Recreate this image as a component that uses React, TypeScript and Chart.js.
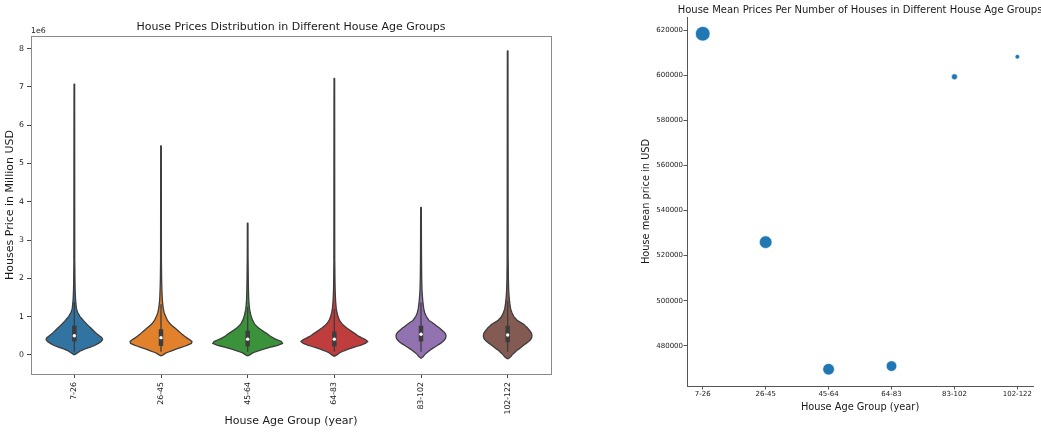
import React, { useEffect, useRef } from "react";
import { Chart, registerables } from "chart.js";

Chart.register(...registerables);

// ---------- data ----------
const ageGroups = ["7-26", "26-45", "45-64", "64-83", "83-102", "102-122"];

// price grid (million USD) on which the violin densities are read
const priceGrid = [-0.05, 0, 0.05, 0.1, 0.15, 0.2, 0.25, 0.3, 0.35, 0.4, 0.45, 0.5, 0.55, 0.6, 0.7, 0.8, 0.9, 1.0, 1.1, 1.2, 1.35, 1.5, 1.7, 2.0, 2.5];

// relative KDE density per group (null = below the violin's lower end)
const density7to26 = [null, null, 3, 6, 10, 16, 20.5, 24, 27, 28.3, 27.5, 25, 22.5, 20.5, 16.5, 12.5, 9, 5.7, 3.5, 2.2, 1.5, 1.1, 0.8, 0.6, 0.4];
const density26to45 = [null, 2, 5, 10, 15, 21, 26, 30.5, 31, 28.5, 25.5, 23, 20.5, 18.5, 14, 9.5, 6.5, 4.7, 3.2, 2.4, 1.6, 1.2, 0.9, 0.6, 0.4];
const density45to64 = [null, 2, 5, 10, 16, 23, 30, 35, 33.5, 29, 25, 22, 19.5, 16.5, 11, 7, 5, 3.5, 2.6, 1.9, 1.3, 1.0, 0.8, 0.6, 0.4];
const density64to83 = [null, 2.5, 5, 9, 14, 20, 26, 31, 33.5, 31, 27, 23.5, 21, 18, 12.5, 8, 5.2, 3.7, 2.7, 2.0, 1.4, 1.1, 0.8, 0.6, 0.4];
const density83to102 = [2, 3.5, 5.5, 8, 10.5, 13.5, 16.5, 19.5, 22, 23.8, 24.8, 25, 24.5, 23, 18.5, 13.5, 8, 5.3, 3.7, 2.8, 2.0, 1.5, 1.0, 0.7, 0.5];
const density102to122 = [3, 4.5, 6.5, 8.5, 11, 13.5, 16, 18.5, 21, 23, 24, 24.3, 24, 23, 20, 16, 9.5, 6.2, 4.3, 3.0, 2.1, 1.5, 1.0, 0.7, 0.5];
const groupDensities = [density7to26, density26to45, density45to64, density64to83, density83to102, density102to122];
const tailDensity = 0.3;

const violinLow = [0.0, -0.03, -0.03, -0.04, -0.09, -0.11];
const violinHigh = [7.07, 5.46, 3.44, 7.22, 3.85, 7.94];
const quartile1 = [0.35, 0.235, 0.22, 0.22, 0.35, 0.33];
const medianPrice = [0.5, 0.45, 0.41, 0.41, 0.54, 0.52];
const quartile3 = [0.765, 0.67, 0.63, 0.61, 0.76, 0.76];
const whiskerLow = [0.08, 0.08, 0.08, 0.08, 0.08, 0.08];
const whiskerHigh = [1.39, 1.32, 1.25, 1.2, 1.37, 1.4];
const leftYTicks = [0, 1, 2, 3, 4, 5, 6, 7, 8];

// right panel
const meanPrice = [618500, 526000, 469600, 471000, 599400, 608300];
const houseCount = [5330, 3970, 3360, 2810, 900, 530];
const rightYTicks = [480000, 500000, 520000, 540000, 560000, 580000, 600000, 620000];

// ---------- styling ----------
const FONT = "'DejaVu Sans', sans-serif";
const TEXT = "#1a1a1a";
const violinColors = ["#3274a1", "#e1812c", "#3a923a", "#c03d3e", "#9372b2", "#845b53"];
const EDGE = "#3d3d3d";
const DENSITY_PER_CATEGORY = 86.7;

function violinOutline(i: number) {
  const dens = groupDensities[i];
  const lo = violinLow[i];
  const hi = violinHigh[i];
  const leftSide: { x: number; y: number }[] = [{ x: i, y: lo }];
  const rightSide: { x: number; y: number }[] = [];
  priceGrid.forEach((p, k) => {
    const d = dens[k];
    if (d == null || p <= lo) return;
    const w = d / DENSITY_PER_CATEGORY;
    leftSide.push({ x: i - w, y: p });
    rightSide.push({ x: i + w, y: p });
  });
  const tw = tailDensity / DENSITY_PER_CATEGORY;
  leftSide.push({ x: i - tw, y: hi });
  rightSide.push({ x: i + tw, y: hi });
  return [...leftSide, ...rightSide.reverse(), { x: i, y: lo }];
}

function textPlugin(id: string, items: { text: string; size: number; y: number; x?: "center" | "left" }[]) {
  return {
    id,
    afterDraw(chart: any) {
      const { ctx, chartArea } = chart;
      ctx.save();
      items.forEach((it) => {
        ctx.font = `${it.size}px ${FONT}`;
        ctx.fillStyle = TEXT;
        ctx.textBaseline = "middle";
        if (it.x === "left") {
          ctx.textAlign = "left";
          ctx.fillText(it.text, chartArea.left, it.y);
        } else {
          ctx.textAlign = "center";
          ctx.fillText(it.text, (chartArea.left + chartArea.right) / 2, it.y);
        }
      });
      ctx.restore();
    },
  };
}

const framePlugin = {
  id: "frame",
  afterDraw(chart: any) {
    const { ctx, chartArea } = chart;
    ctx.save();
    ctx.strokeStyle = "#8a8a8a";
    ctx.lineWidth = 1;
    ctx.strokeRect(
      Math.round(chartArea.left) + 0.5,
      Math.round(chartArea.top) + 0.5,
      Math.round(chartArea.right - chartArea.left),
      Math.round(chartArea.bottom - chartArea.top)
    );
    ctx.restore();
  },
};

export default function App() {
  const leftRef = useRef<HTMLCanvasElement>(null);
  const rightRef = useRef<HTMLCanvasElement>(null);

  useEffect(() => {
    const datasets: any[] = [];
    ageGroups.forEach((g, i) => {
      datasets.push({
        label: g,
        data: violinOutline(i),
        showLine: true,
        fill: "shape",
        backgroundColor: violinColors[i],
        borderColor: EDGE,
        borderWidth: 1.3,
        borderJoinStyle: "round",
        pointRadius: 0,
        tension: 0.0001,
        order: 3,
      });
      datasets.push({
        data: [{ x: i, y: whiskerLow[i] }, { x: i, y: whiskerHigh[i] }],
        showLine: true,
        borderColor: EDGE,
        borderWidth: 1.3,
        pointRadius: 0,
        order: 2,
      });
      datasets.push({
        data: [{ x: i, y: quartile1[i] }, { x: i, y: quartile3[i] }],
        showLine: true,
        borderColor: EDGE,
        borderWidth: 4.5,
        borderCapStyle: "butt",
        pointRadius: 0,
        order: 1,
      });
      datasets.push({
        data: [{ x: i, y: medianPrice[i] }],
        pointRadius: 1.7,
        backgroundColor: "#ffffff",
        borderWidth: 0,
        order: 0,
      });
    });

    const tickGrid = { display: true, drawOnChartArea: false, drawTicks: true, tickLength: 4, color: "#444" };

    const left = new Chart(leftRef.current!, {
      type: "scatter",
      data: { datasets },
      options: {
        animation: false,
        responsive: false,
        devicePixelRatio: 1,
        layout: { padding: { top: 36, right: 29, left: 0, bottom: 0 } },
        plugins: { legend: { display: false }, tooltip: { enabled: false } },
        scales: {
          x: {
            type: "linear",
            min: -0.5,
            max: 5.5,
            afterBuildTicks: (s: any) => {
              s.ticks = ageGroups.map((_, i) => ({ value: i }));
            },
            afterFit: (s: any) => {
              s.height = 59;
            },
            ticks: {
              callback: (v: any) => ageGroups[Math.round(Number(v))],
              font: { size: 7.8, family: FONT },
              color: TEXT,
              minRotation: 90,
              maxRotation: 90,
              autoSkip: false,
              padding: 4,
            },
            grid: tickGrid,
            border: { display: false },
            title: {
              display: true,
              text: "House Age Group (year)",
              font: { size: 11, family: FONT },
              color: TEXT,
              padding: { top: 0, bottom: 5.7 },
            },
          },
          y: {
            type: "linear",
            min: -0.5,
            max: 8.33,
            afterBuildTicks: (s: any) => {
              s.ticks = leftYTicks.map((v) => ({ value: v }));
            },
            afterFit: (s: any) => {
              s.width = 31;
            },
            ticks: { font: { size: 7.8, family: FONT }, color: TEXT, padding: 3 },
            grid: tickGrid,
            border: { display: false },
            title: {
              display: true,
              text: "Houses Price in Million USD",
              font: { size: 11, family: FONT },
              color: TEXT,
              padding: { top: 3.4, bottom: 0 },
            },
          },
        },
      },
      plugins: [
        framePlugin,
        textPlugin("leftTexts", [
          { text: "House Prices Distribution in Different House Age Groups", size: 11, y: 27 },
          { text: "1e6", size: 7.8, y: 31, x: "left" },
        ]),
      ],
    } as any);

    const lo = Math.min(...meanPrice);
    const hi = Math.max(...meanPrice);
    const pad = (hi - lo) * 0.05;
    const xPad = (ageGroups.length - 1) * 0.05;

    const right = new Chart(rightRef.current!, {
      type: "scatter",
      data: {
        datasets: [
          {
            data: meanPrice.map((v, i) => ({ x: i, y: v })),
            pointRadius: (c: any) => Math.sqrt(houseCount[c.dataIndex]) / 10,
            backgroundColor: "#1f77b4",
            borderColor: "#ffffff",
            borderWidth: 0.6,
          },
        ],
      },
      options: {
        animation: false,
        responsive: false,
        devicePixelRatio: 1,
        layout: { padding: { top: 17, right: 6, left: 0, bottom: 0 } },
        plugins: { legend: { display: false }, tooltip: { enabled: false } },
        scales: {
          x: {
            type: "linear",
            min: -xPad,
            max: ageGroups.length - 1 + xPad,
            afterBuildTicks: (s: any) => {
              s.ticks = ageGroups.map((_, i) => ({ value: i }));
            },
            afterFit: (s: any) => {
              s.height = 47;
            },
            ticks: {
              callback: (v: any) => ageGroups[Math.round(Number(v))],
              font: { size: 7, family: FONT },
              color: TEXT,
              maxRotation: 0,
              autoSkip: false,
              padding: 0,
            },
            grid: { ...tickGrid, tickLength: 3.5, color: "#555" },
            border: { display: true, color: "#555", width: 1 },
            title: {
              display: true,
              text: "House Age Group (year)",
              font: { size: 9.8, family: FONT },
              color: TEXT,
              padding: { top: 0, bottom: 20 },
            },
          },
          y: {
            type: "linear",
            min: lo - pad,
            max: hi + pad,
            afterBuildTicks: (s: any) => {
              s.ticks = rightYTicks.map((v) => ({ value: v }));
            },
            afterFit: (s: any) => {
              s.width = 87;
            },
            ticks: {
              callback: (v: any) => String(v),
              font: { size: 7, family: FONT },
              color: TEXT,
              padding: 0.5,
            },
            grid: { ...tickGrid, tickLength: 3.5, color: "#555" },
            border: { display: true, color: "#555", width: 1 },
            title: {
              display: true,
              text: "House mean price in USD",
              font: { size: 9.8, family: FONT },
              color: TEXT,
              padding: { top: 41, bottom: 0 },
            },
          },
        },
      },
      plugins: [
        textPlugin("rightTexts", [
          { text: "House Mean Prices Per Number of Houses in Different House Age Groups", size: 10, y: 10 },
        ]),
      ],
    } as any);

    return () => {
      left.destroy();
      right.destroy();
    };
  }, []);

  return (
    <div style={{ position: "absolute", left: 0, top: 0, width: 1041, height: 433, background: "#ffffff", overflow: "hidden" }}>
      <canvas ref={leftRef} width={580} height={433} style={{ position: "absolute", left: 0, top: 0, width: 580, height: 433 }} />
      <canvas ref={rightRef} width={441} height={433} style={{ position: "absolute", left: 600, top: 0, width: 441, height: 433 }} />
    </div>
  );
}
